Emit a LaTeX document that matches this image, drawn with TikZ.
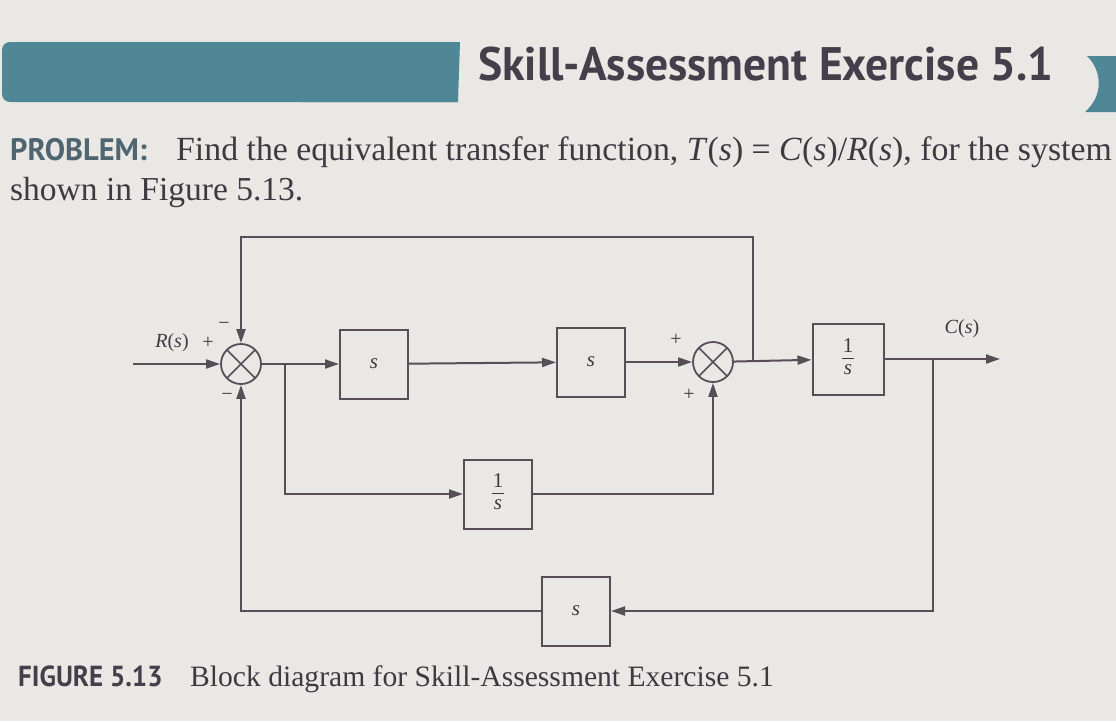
\documentclass[tikz,border=0pt]{standalone}
\usepackage{fontspec}
\setmainfont{Liberation Serif}
\newfontfamily\hdfont{PT Sans}
\usetikzlibrary{arrows.meta,calc}
\definecolor{bgc}{HTML}{EAE8E5}
\definecolor{teal}{HTML}{4F8797}
\definecolor{lnc}{HTML}{564F58}
\definecolor{titc}{HTML}{463E4A}
\definecolor{probc}{HTML}{4F6570}
\definecolor{txtc}{HTML}{3E3A42}
\tikzset{
  blk/.style={draw=lnc, line width=2pt, minimum width=68pt, minimum height=69pt, inner sep=0pt, text=txtc, font=\fontsize{21}{24}\selectfont},
  sumj/.style={draw=lnc, circle, line width=1.8pt, minimum size=40pt, inner sep=0pt,
    path picture={\draw[lnc, line width=1.6pt] (path picture bounding box.north west) -- (path picture bounding box.south east)
      (path picture bounding box.north east) -- (path picture bounding box.south west);}},
  conn/.style={draw=lnc, line width=2pt},
  arr/.style={conn, -{Triangle[length=14pt,width=9pt]}},
  lbl/.style={text=txtc, font=\fontsize{20}{24}\selectfont, inner sep=0pt},
  sgn/.style={text=txtc, font=\fontsize{20}{22}\selectfont, inner sep=0pt}
}
\newcommand{\fracone}{\begin{tabular}{@{}c@{}}1\\[-14pt]\rule[4pt]{12pt}{1.2pt}\\[-12pt]\textit{s}\end{tabular}}
\begin{document}
\begin{tikzpicture}[x=1pt,y=-1pt]
\useasboundingbox (0,0) rectangle (1116,721);
\fill[bgc] (0,0) rectangle (1116,721);
\clip (0,0) rectangle (1116,721);
% header bars
\fill[teal, rounded corners=8pt] (458,102) -- (2,102) -- (2,42) -- (460,42);
\fill[teal] (2,60) rectangle (300,90);
\fill[teal] (300,42) -- (460,42) .. controls (443,58) and (443,88) .. (458,102) -- (300,102) -- cycle;
\fill[teal] (1116,56) -- (1087,56) .. controls (1103,72) and (1103,96) .. (1085,112) -- (1116,112) -- cycle;
\node[anchor=base west, inner sep=0pt, text=titc] (title) at (478,80)
  {\scalebox{0.97}[1]{\hdfont\bfseries\fontsize{47}{50}\selectfont Skill-Assessment Exercise 5.1}};
% problem text
\node[anchor=base west, inner sep=0pt, text=probc] (prob) at (10,160)
  {\scalebox{0.98}[1]{\hdfont\bfseries\fontsize{31}{36}\selectfont PROBLEM:}};
\node[anchor=base west, inner sep=0pt, text=txtc, font=\fontsize{33.8}{40}\selectfont] (ptxt) at (176,160)
  {Find the equivalent transfer function, \textit{T}(\textit{s}) = \textit{C}(\textit{s})/\textit{R}(\textit{s}), for the system};
\node[anchor=base west, inner sep=0pt, text=txtc, font=\fontsize{33.5}{40}\selectfont] (ptxt2) at (10,200)
  {shown in Figure 5.13.};
% caption
\node[anchor=base west, inner sep=0pt, text=titc] (figl) at (18,686)
  {\scalebox{0.93}[1]{\hdfont\bfseries\fontsize{29}{32}\selectfont FIGURE 5.13}};
\node[anchor=base west, inner sep=0pt, text=txtc, font=\fontsize{29.6}{34}\selectfont] (figc) at (190,686)
  {Block diagram for Skill-Assessment Exercise 5.1};
% blocks
\node[sumj] (sum1) at (241,364) {};
\node[sumj] (sum2) at (713,362) {};
\node[blk] (s1) at (374,364) {\textit{s}};
\node[blk] (s2) at (591,362) {\textit{s}};
\node[blk] (inv1) at (498,494) {\fracone};
\node[blk, minimum width=71pt, minimum height=71pt] (inv2) at (848,359) {\fracone};
\node[blk] (s3) at (576,611) {\textit{s}};
% coordinates
\coordinate (in) at (133,364);
\coordinate (b1) at (285,364);
\coordinate (b2) at (753,361);
\coordinate (tr) at (753,237);
\coordinate (b3) at (933,359);
\coordinate (out) at (1000,359);
% connectors
\draw[arr] (in) -- (sum1);
\draw[arr] (sum1) -- (s1);
\draw[arr] (b1) |- (inv1);
\draw[arr] (s1) -- (s2);
\draw[arr] (s2) -- (sum2);
\draw[arr] (inv1) -| (sum2);
\draw[arr] (sum2) -- (inv2);
\draw[arr] (b2) -- (tr) -| (sum1);
\draw[arr] (inv2) -- (out);
\draw[arr] (b3) |- (s3);
\draw[arr] (s3) -| (sum1);
% labels
\node[lbl] (rl) at (172,343) {\textit{R}(\textit{s})};
\node[sgn] (p1) at (208,343) {+};
\node[sgn] (m1) at (224,326) {\textminus};
\node[sgn] (m2) at (227,397) {\textminus};
\node[sgn] (p2) at (676,340) {+};
\node[sgn] (p3) at (689,395) {+};
\node[lbl] (cl) at (962,329) {\textit{C}(\textit{s})};
\end{tikzpicture}
\end{document}
